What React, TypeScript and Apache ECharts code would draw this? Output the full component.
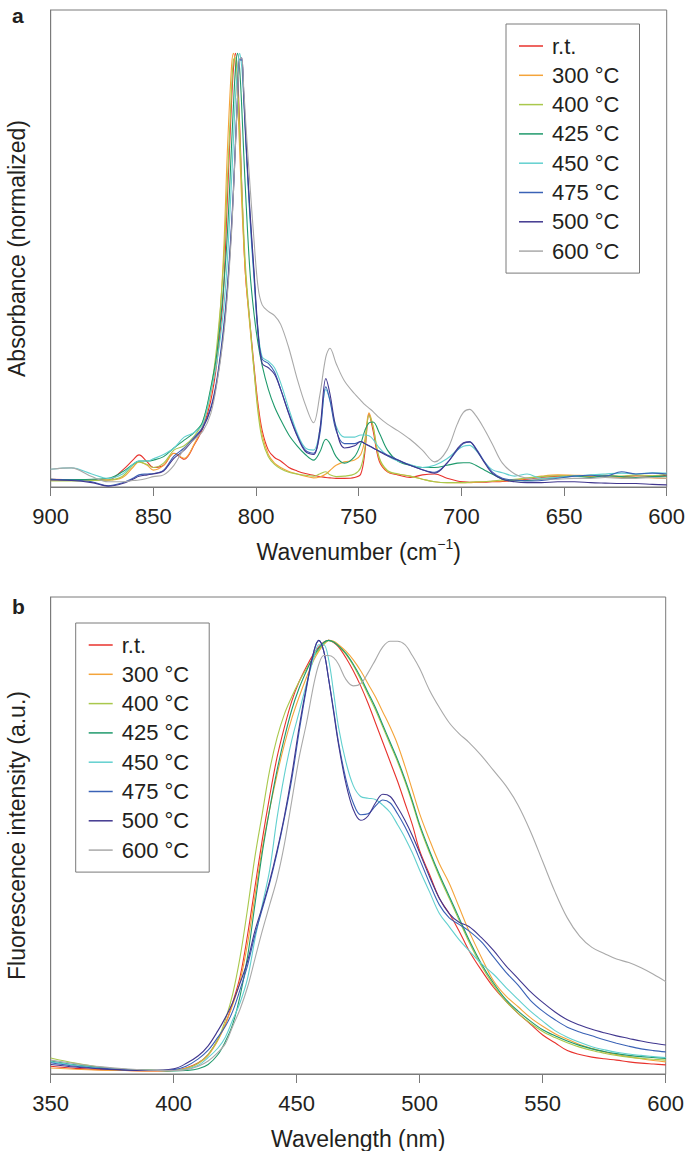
import React, { useEffect, useRef } from "react";
import * as echarts from "echarts";

const NAMES = ["r.t.", "300 °C", "400 °C", "425 °C", "450 °C", "475 °C", "500 °C", "600 °C"];
const COLORS = ["#e8322d", "#f4a43a", "#a9c84c", "#1f9a6c", "#62d0cf", "#3a62b6", "#41378f", "#a9a9a9"];

// Panel a: wavenumber grid (cm-1) and normalized absorbance
const WAVENUMBER = [900, 890, 880, 872, 865, 860, 857, 853, 850, 845, 840, 835, 830, 826, 822, 819, 816, 814, 812, 811, 810, 809, 808, 807, 806, 805, 803, 801, 799, 797, 794, 791, 788, 784, 780, 776, 772, 769, 766, 764, 761, 757, 752, 749, 747, 745, 743, 740, 736, 731, 725, 719, 713, 707, 702, 699, 696, 693, 689, 685, 680, 674, 668, 661, 653, 645, 637, 630, 622, 615, 607, 600];

const ABS_RT = [0.018, 0.017, 0.016, 0.016, 0.039, 0.062, 0.074, 0.058, 0.045, 0.05, 0.078, 0.064, 0.098, 0.135, 0.2, 0.29, 0.44, 0.66, 0.88, 0.965, 1.0, 0.95, 0.84, 0.7, 0.57, 0.48, 0.38, 0.28, 0.19, 0.13, 0.085, 0.068, 0.06, 0.045, 0.037, 0.031, 0.027, 0.024, 0.022, 0.021, 0.02, 0.02, 0.022, 0.03, 0.08, 0.168, 0.13, 0.06, 0.035, 0.028, 0.022, 0.028, 0.03, 0.02, 0.014, 0.012, 0.011, 0.011, 0.011, 0.012, 0.013, 0.015, 0.018, 0.022, 0.025, 0.026, 0.024, 0.027, 0.024, 0.026, 0.025, 0.027];
const ABS_300 = [0.016, 0.015, 0.016, 0.016, 0.022, 0.045, 0.058, 0.05, 0.039, 0.05, 0.078, 0.066, 0.1, 0.14, 0.215, 0.31, 0.52, 0.77, 0.965, 1.0, 0.97, 0.89, 0.78, 0.66, 0.56, 0.48, 0.37, 0.27, 0.18, 0.12, 0.075, 0.055, 0.045, 0.036, 0.03, 0.025, 0.021, 0.023, 0.03, 0.038, 0.05, 0.058, 0.062, 0.075, 0.11, 0.171, 0.14, 0.065, 0.036, 0.03, 0.025, 0.018, 0.012, 0.01, 0.01, 0.01, 0.01, 0.011, 0.012, 0.013, 0.014, 0.016, 0.02, 0.025, 0.028, 0.027, 0.026, 0.024, 0.022, 0.023, 0.021, 0.02];
const ABS_400 = [0.014, 0.014, 0.015, 0.016, 0.025, 0.05, 0.058, 0.052, 0.045, 0.055, 0.085, 0.095, 0.118, 0.15, 0.225, 0.33, 0.5, 0.7, 0.91, 0.985, 0.99, 0.93, 0.82, 0.7, 0.59, 0.5, 0.38, 0.27, 0.17, 0.11, 0.07, 0.052, 0.042, 0.034, 0.03, 0.027, 0.025, 0.03, 0.035, 0.028, 0.024, 0.025, 0.03, 0.045, 0.09, 0.165, 0.14, 0.068, 0.038, 0.03, 0.025, 0.018, 0.012, 0.01, 0.01, 0.01, 0.011, 0.012, 0.012, 0.014, 0.016, 0.018, 0.021, 0.024, 0.026, 0.025, 0.023, 0.027, 0.025, 0.028, 0.026, 0.03];
const ABS_425 = [0.018, 0.017, 0.018, 0.02, 0.035, 0.052, 0.06, 0.06, 0.062, 0.07, 0.09, 0.108, 0.126, 0.15, 0.23, 0.31, 0.45, 0.58, 0.78, 0.88, 0.965, 1.0, 0.965, 0.88, 0.77, 0.67, 0.5, 0.4, 0.33, 0.28, 0.225, 0.185, 0.155, 0.12, 0.095, 0.075, 0.062, 0.08, 0.11, 0.1, 0.07, 0.055, 0.07, 0.1, 0.13, 0.148, 0.15, 0.125, 0.085, 0.06, 0.05, 0.045, 0.045, 0.05, 0.055, 0.056, 0.056, 0.05, 0.04, 0.03, 0.018, 0.014, 0.015, 0.018, 0.022, 0.025, 0.022, 0.026, 0.024, 0.022, 0.024, 0.025];
const ABS_450 = [0.041, 0.044, 0.03, 0.02, 0.03, 0.052, 0.06, 0.06, 0.065, 0.075, 0.09, 0.115, 0.126, 0.145, 0.22, 0.29, 0.4, 0.52, 0.7, 0.8, 0.9, 0.965, 1.0, 0.97, 0.9, 0.8, 0.62, 0.48, 0.36, 0.3, 0.29, 0.275, 0.24, 0.18, 0.125, 0.09, 0.085, 0.13, 0.225, 0.2, 0.14, 0.115, 0.115, 0.12, 0.12, 0.118, 0.11, 0.09, 0.072, 0.06, 0.052, 0.045, 0.05, 0.065, 0.085, 0.094, 0.096, 0.085, 0.06, 0.04, 0.033, 0.025, 0.03, 0.02, 0.022, 0.025, 0.028, 0.03, 0.032, 0.03, 0.033, 0.032];
const ABS_475 = [0.018, 0.016, 0.012, 0.003, 0.01, 0.02, 0.028, 0.03, 0.031, 0.039, 0.071, 0.09, 0.115, 0.138, 0.184, 0.25, 0.36, 0.46, 0.6, 0.69, 0.8, 0.9, 0.985, 0.985, 0.9, 0.8, 0.63, 0.49, 0.35, 0.295, 0.285, 0.265, 0.225, 0.17, 0.12, 0.085, 0.078, 0.12, 0.231, 0.2, 0.13, 0.1, 0.1, 0.105, 0.1, 0.095, 0.09, 0.083, 0.074, 0.063, 0.05, 0.04, 0.034, 0.055, 0.085, 0.1, 0.104, 0.09, 0.06, 0.035, 0.02, 0.016, 0.014, 0.015, 0.02, 0.025, 0.027, 0.025, 0.035, 0.03, 0.032, 0.03];
const ABS_500 = [0.016, 0.015, 0.01, 0.002, 0.008, 0.018, 0.025, 0.028, 0.03, 0.037, 0.066, 0.085, 0.112, 0.135, 0.18, 0.245, 0.35, 0.45, 0.59, 0.68, 0.79, 0.9, 0.985, 0.99, 0.91, 0.81, 0.64, 0.5, 0.36, 0.285, 0.275, 0.26, 0.225, 0.168, 0.118, 0.082, 0.075, 0.13, 0.25, 0.215, 0.135, 0.09, 0.095, 0.105, 0.1, 0.095, 0.09, 0.082, 0.072, 0.062, 0.05, 0.04, 0.032, 0.055, 0.088, 0.102, 0.104, 0.088, 0.058, 0.032, 0.018, 0.012, 0.01, 0.01, 0.012, 0.012, 0.01, 0.009, 0.008, 0.008, 0.006, 0.005];
const ABS_600 = [0.041, 0.044, 0.024, 0.012, 0.012, 0.015, 0.016, 0.02, 0.024, 0.028, 0.05, 0.088, 0.11, 0.128, 0.17, 0.24, 0.34, 0.44, 0.58, 0.68, 0.79, 0.9, 0.985, 0.99, 0.92, 0.84, 0.7, 0.57, 0.46, 0.42, 0.405, 0.395, 0.375, 0.32, 0.25, 0.19, 0.148, 0.21, 0.3, 0.32, 0.285, 0.245, 0.215, 0.2, 0.19, 0.182, 0.174, 0.16, 0.145, 0.13, 0.11, 0.085, 0.058, 0.085, 0.145, 0.172, 0.179, 0.165, 0.135, 0.1, 0.055, 0.03, 0.02, 0.018, 0.018, 0.02, 0.02, 0.022, 0.02, 0.02, 0.022, 0.02];

// Panel b: wavelength grid (nm) and fluorescence intensity
const WAVELENGTH = [350, 360, 370, 380, 390, 400, 405, 410, 414, 418, 421, 424, 427, 430, 433, 436, 439, 442, 445, 448, 451, 454, 457, 459, 461, 463, 465, 467, 470, 473, 476, 479, 482, 485, 488, 491, 494, 497, 500, 504, 508, 512, 516, 520, 525, 530, 535, 540, 545, 550, 555, 560, 565, 570, 575, 580, 585, 590, 595, 600];

const FL_RT = [0.018, 0.013, 0.01, 0.008, 0.007, 0.008, 0.014, 0.026, 0.045, 0.08, 0.115, 0.165, 0.225, 0.32, 0.43, 0.54, 0.64, 0.73, 0.8, 0.86, 0.905, 0.94, 0.97, 0.985, 0.996, 1.0, 0.995, 0.985, 0.96, 0.93, 0.895, 0.855, 0.81, 0.765, 0.72, 0.675, 0.625, 0.575, 0.515, 0.46, 0.405, 0.37, 0.33, 0.285, 0.24, 0.2, 0.168, 0.14, 0.115, 0.09, 0.072, 0.054, 0.045, 0.039, 0.035, 0.032, 0.028, 0.025, 0.023, 0.021];
const FL_300 = [0.014, 0.011, 0.009, 0.008, 0.007, 0.008, 0.013, 0.024, 0.043, 0.078, 0.115, 0.16, 0.215, 0.3, 0.41, 0.52, 0.61, 0.69, 0.76, 0.82, 0.87, 0.915, 0.955, 0.975, 0.99, 1.0, 0.998, 0.99, 0.975, 0.955, 0.93, 0.9, 0.87, 0.835, 0.8, 0.76, 0.71, 0.655, 0.6, 0.54, 0.485, 0.44, 0.385, 0.33, 0.27, 0.215, 0.18, 0.155, 0.13, 0.11, 0.093, 0.08, 0.068, 0.059, 0.051, 0.045, 0.04, 0.035, 0.031, 0.028];
const FL_400 = [0.037, 0.025, 0.016, 0.011, 0.009, 0.008, 0.012, 0.025, 0.045, 0.08, 0.125, 0.185, 0.27, 0.38, 0.5, 0.6, 0.7, 0.775, 0.83, 0.87, 0.905, 0.935, 0.962, 0.978, 0.992, 1.0, 0.996, 0.987, 0.968, 0.942, 0.91, 0.875, 0.84, 0.8, 0.76, 0.72, 0.675, 0.625, 0.57, 0.51, 0.455, 0.405, 0.355, 0.305, 0.25, 0.205, 0.168, 0.14, 0.117, 0.098, 0.084, 0.072, 0.062, 0.054, 0.048, 0.043, 0.039, 0.036, 0.034, 0.032];
const FL_425 = [0.03, 0.021, 0.015, 0.011, 0.009, 0.007, 0.008, 0.012, 0.022, 0.045, 0.075, 0.115, 0.18, 0.27, 0.39, 0.51, 0.61, 0.7, 0.775, 0.84, 0.89, 0.93, 0.965, 0.982, 0.995, 1.0, 0.996, 0.987, 0.97, 0.945, 0.915, 0.88, 0.845, 0.805, 0.765, 0.725, 0.68, 0.63, 0.575, 0.515, 0.46, 0.41, 0.36, 0.31, 0.255, 0.21, 0.172, 0.145, 0.122, 0.102, 0.088, 0.076, 0.066, 0.058, 0.052, 0.047, 0.043, 0.04, 0.038, 0.036];
const FL_450 = [0.028, 0.02, 0.014, 0.01, 0.008, 0.008, 0.011, 0.02, 0.038, 0.06, 0.085, 0.125, 0.165, 0.22, 0.31, 0.39, 0.47, 0.59, 0.69, 0.77, 0.835, 0.9, 0.96, 0.99, 0.99, 0.955, 0.88, 0.8, 0.72, 0.665, 0.64, 0.636, 0.633, 0.62, 0.603, 0.575, 0.545, 0.51, 0.47, 0.42, 0.37, 0.34, 0.31, 0.285, 0.255, 0.23, 0.2, 0.172, 0.145, 0.122, 0.1, 0.085, 0.073, 0.063, 0.056, 0.05, 0.046, 0.043, 0.04, 0.038];
const FL_475 = [0.026, 0.018, 0.013, 0.01, 0.008, 0.01, 0.018, 0.035, 0.055, 0.085, 0.11, 0.145, 0.195, 0.25, 0.32, 0.38, 0.44, 0.51, 0.59, 0.68, 0.79, 0.89, 0.975, 1.0, 0.975, 0.91, 0.84, 0.765, 0.68, 0.625, 0.598, 0.6, 0.618, 0.632, 0.625, 0.6, 0.57, 0.535, 0.495, 0.44, 0.39, 0.36, 0.345, 0.33, 0.305, 0.27, 0.235, 0.205, 0.17, 0.145, 0.125, 0.108, 0.097, 0.088, 0.079, 0.071, 0.064, 0.058, 0.054, 0.051];
const FL_500 = [0.022, 0.016, 0.012, 0.009, 0.008, 0.012, 0.024, 0.042, 0.065, 0.1, 0.13, 0.165, 0.21, 0.26, 0.33, 0.385, 0.445, 0.515, 0.595, 0.69, 0.8, 0.895, 0.975, 1.0, 0.975, 0.91, 0.835, 0.76, 0.67, 0.61, 0.585, 0.595, 0.625, 0.645, 0.64, 0.615, 0.585, 0.55, 0.51, 0.455, 0.405, 0.37, 0.35, 0.34, 0.315, 0.285, 0.25, 0.22, 0.19, 0.165, 0.143, 0.125, 0.113, 0.103, 0.095, 0.088, 0.082, 0.076, 0.071, 0.067];
const FL_600 = [0.032, 0.024, 0.017, 0.012, 0.009, 0.008, 0.01, 0.018, 0.03, 0.05, 0.07, 0.11, 0.15, 0.2, 0.265, 0.33, 0.39, 0.45, 0.53, 0.63, 0.73, 0.81, 0.9, 0.945, 0.965, 0.965, 0.96, 0.945, 0.91, 0.895, 0.9, 0.925, 0.955, 0.985, 0.998, 0.998, 0.99, 0.965, 0.935, 0.885, 0.845, 0.81, 0.785, 0.765, 0.735, 0.7, 0.665, 0.62, 0.56, 0.49, 0.42, 0.36, 0.318, 0.292, 0.278, 0.265, 0.257, 0.245, 0.23, 0.213];

const ABS_SERIES = [ABS_RT, ABS_300, ABS_400, ABS_425, ABS_450, ABS_475, ABS_500, ABS_600];
const FL_SERIES = [FL_RT, FL_300, FL_400, FL_425, FL_450, FL_475, FL_500, FL_600];

const X_TICKS_A = { min: 600, max: 900, interval: 50 };
const X_TICKS_B = { min: 350, max: 600, interval: 50 };

const FONT = '"Liberation Sans", Arial, Helvetica, sans-serif';
const TEXT = "#231f20";
const AXIS = "#7a7a7a";

function xAxisCfg(grid: number, ticks: any, inverse: boolean, name: string) {
  return {
    gridIndex: grid,
    type: "value",
    min: ticks.min,
    max: ticks.max,
    interval: ticks.interval,
    inverse,
    axisLine: { show: true, lineStyle: { color: AXIS, width: 1 } },
    axisTick: { show: true, inside: false, length: 9, lineStyle: { color: AXIS, width: 1 } },
    axisLabel: { fontSize: 22, color: TEXT, margin: 18, fontFamily: FONT },
    splitLine: { show: false },
    name,
    nameLocation: "middle",
    nameGap: 50,
    nameTextStyle: {
      color: TEXT,
      fontFamily: FONT,
      fontSize: 23,
      rich: {
        t: { fontSize: 23, color: TEXT, fontFamily: FONT, lineHeight: 30 },
        s: { fontSize: 14, color: TEXT, fontFamily: FONT, verticalAlign: "top", lineHeight: 30 },
      },
    },
  };
}

function yAxisCfg(grid: number, name: string) {
  return {
    gridIndex: grid,
    type: "value",
    min: 0,
    max: 1.1,
    axisLine: { show: true, lineStyle: { color: AXIS, width: 1 } },
    axisTick: { show: false },
    axisLabel: { show: false },
    splitLine: { show: false },
    name,
    nameLocation: "middle",
    nameRotate: 90,
    nameGap: 22,
    nameTextStyle: { color: TEXT, fontFamily: FONT, fontSize: 23 },
  };
}

function legendCfg(left: number, top: number) {
  return {
    orient: "vertical",
    left,
    top,
    data: NAMES,
    icon: "rect",
    itemWidth: 24,
    itemHeight: 1.5,
    itemGap: 7.3,
    padding: [11, 20, 11, 13],
    borderColor: AXIS,
    borderWidth: 1,
    selectedMode: false,
    textStyle: { fontSize: 22, color: TEXT, fontFamily: FONT, lineHeight: 22, padding: [0, 0, 0, 4] },
  };
}

export default function App() {
  const ref = useRef<HTMLDivElement>(null);
  useEffect(() => {
    document.body.style.margin = "0";
    if (!ref.current) return;
    const chart = echarts.init(ref.current, undefined, { renderer: "svg" });
    const series: any[] = [];
    NAMES.forEach((n, i) => {
      series.push({
        name: n,
        type: "line",
        xAxisIndex: 0,
        yAxisIndex: 0,
        data: WAVENUMBER.map((x, j) => [x, ABS_SERIES[i][j]]),
        showSymbol: false,
        symbol: "none",
        smooth: 0.35,
        color: COLORS[i],
        lineStyle: { width: 1.1, color: COLORS[i] },
      });
    });
    NAMES.forEach((n, i) => {
      series.push({
        name: n,
        type: "line",
        xAxisIndex: 1,
        yAxisIndex: 1,
        data: WAVELENGTH.map((x, j) => [x, FL_SERIES[i][j]]),
        showSymbol: false,
        symbol: "none",
        smooth: 0.35,
        color: COLORS[i],
        lineStyle: { width: 1.1, color: COLORS[i] },
      });
    });
    chart.setOption({
      animation: false,
      backgroundColor: "#ffffff",
      grid: [
        { left: 50.7, top: 10, width: 616, height: 477, show: true, borderColor: AXIS, borderWidth: 1, containLabel: false, outerBoundsMode: "none" },
        { left: 50.7, top: 597, width: 615, height: 477, show: true, borderColor: AXIS, borderWidth: 1, containLabel: false, outerBoundsMode: "none" },
      ],
      xAxis: [
        xAxisCfg(0, X_TICKS_A, true, "{t|Wavenumber (cm}{s|−1}{t|)}"),
        xAxisCfg(1, X_TICKS_B, false, "{t|Wavelength (nm)}"),
      ],
      yAxis: [yAxisCfg(0, "Absorbance (normalized)"), yAxisCfg(1, "Fluorescence intensity (a.u.)")],
      legend: [legendCfg(506, 24), legendCfg(75.7, 623)],
      graphic: [
        { type: "text", left: 12, top: 5, style: { text: "a", font: `bold 21px ${FONT}`, fill: TEXT } },
        { type: "text", left: 12, top: 596, style: { text: "b", font: `bold 21px ${FONT}`, fill: TEXT } },
      ],
      series,
    });
    return () => chart.dispose();
  }, []);
  return <div ref={ref} style={{ width: 685, height: 1151 }} />;
}
